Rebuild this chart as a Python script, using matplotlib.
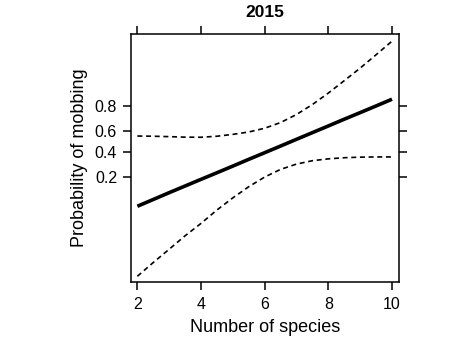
import matplotlib
matplotlib.use("Agg")
import matplotlib.pyplot as plt
from matplotlib.ticker import NullLocator

plt.rcParams['font.family'] = ['Liberation Sans', 'DejaVu Sans']

# Number of species
species = [2, 2.5, 3, 3.5, 4, 4.5, 5, 5.5, 6, 6.5, 7, 7.5, 8, 8.5, 9, 9.5, 10]

# Fitted probability of mobbing
fit = [0.072, 0.092, 0.117, 0.147, 0.183, 0.225, 0.274, 0.330, 0.390,
       0.454, 0.520, 0.585, 0.647, 0.705, 0.756, 0.801, 0.840]
# Confidence band
upper = [0.552, 0.550, 0.546, 0.541, 0.540, 0.550, 0.568, 0.591, 0.626,
         0.677, 0.742, 0.810, 0.870, 0.916, 0.947, 0.968, 0.981]
lower = [0.0049, 0.0084, 0.0141, 0.0237, 0.0380, 0.0628, 0.0975, 0.1436, 0.197,
         0.249, 0.290, 0.318, 0.334, 0.344, 0.349, 0.351, 0.351]

xticks = [2, 4, 6, 8, 10]
yticks = [0.2, 0.4, 0.6, 0.8]
ytick_labels = ['0.2', '0.4', '0.6', '0.8']

fig = plt.figure(figsize=(4.74, 3.39), dpi=100)
ax = fig.add_axes([0.2764, 0.169, 0.5654, 0.7307])

ax.plot(species, fit, color='black', lw=2.6, solid_capstyle='butt')
ax.plot(species, upper, color='black', lw=1.2, dashes=(3.0, 2.2))
ax.plot(species, lower, color='black', lw=1.2, dashes=(3.0, 2.2))

ax.set_yscale('logit')
ax.set_ylim(0.00396, 0.9856)
ax.set_yticks(yticks)
ax.set_yticklabels(ytick_labels)
ax.yaxis.set_minor_locator(NullLocator())

ax.set_xlim(1.8, 10.22)
ax.set_xticks(xticks)

for s in ax.spines.values():
    s.set_linewidth(1.1)

ax.tick_params(axis='both', which='major', direction='out', length=5.5, width=1.1,
               labelsize=11.5, top=True, right=True, labeltop=False, labelright=False)
ax.tick_params(axis='x', pad=5.5)
ax.tick_params(axis='y', pad=4.5)

ax.set_xlabel('Number of species', fontsize=13, labelpad=5)
ax.set_ylabel('Probability of mobbing', fontsize=13, labelpad=5)
ax.set_title('2015', fontsize=12.5, fontweight='bold', pad=12)

fig.savefig('out.png', dpi=100)
